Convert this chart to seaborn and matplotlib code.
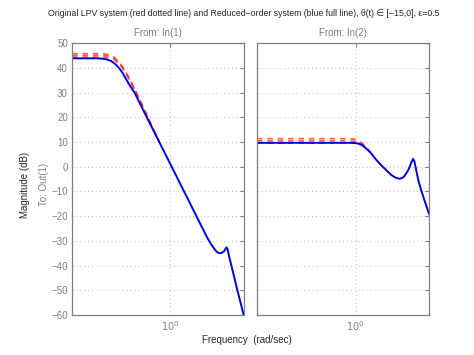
import numpy as np
import pandas as pd
import seaborn as sns
import matplotlib
matplotlib.use("Agg")
import matplotlib.pyplot as plt

# ---- data (log10 of frequency, magnitude in dB) ----
# From: In(1), reduced-order model (blue)
in1_logf = [-0.80, -0.60, -0.56, -0.52, -0.48, -0.45, -0.42, -0.39, -0.36,
            -0.33, -0.29, -0.19, -0.088, 0.013, 0.114, 0.215, 0.30, 0.33,
            0.36, 0.385, 0.404, 0.42, 0.44, 0.461, 0.47, 0.478, 0.49, 0.50,
            0.525, 0.549, 0.575, 0.60]
in1_blue = [43.9, 43.9, 43.8, 43.5, 42.8, 41.7, 40.2, 38.2, 35.6,
            33.0, 30.0, 20.0, 10.0, 0.0, -10.0, -20.0, -28.4, -31.0,
            -33.2, -34.6, -35.0, -34.9, -34.2, -32.6, -33.5, -35.5, -38.0, -40.0,
            -45.0, -50.0, -55.0, -60.0]

# From: In(1), original LPV system for several theta (red)
in1_red_logf = [-0.80, -0.55, -0.50, -0.46, -0.42, -0.38, -0.34, -0.29, -0.19, -0.088]
in1_red = [
    [45.8, 45.8, 45.4, 44.5, 42.7, 39.9, 36.4, 31.5, 21.0, 10.0],
    [45.1, 45.1, 44.8, 44.0, 42.3, 39.6, 36.2, 31.4, 20.9, 10.0],
    [44.4, 44.4, 44.2, 43.5, 41.9, 39.3, 36.0, 31.2, 20.8, 10.0],
]

# From: In(2), reduced-order model (blue)
in2_logf = [-0.80, -0.038, 0.0, 0.03, 0.055, 0.077, 0.10, 0.126, 0.165, 0.208,
            0.25, 0.29, 0.325, 0.358, 0.39, 0.413, 0.435, 0.455, 0.468, 0.478,
            0.487, 0.509, 0.53, 0.55, 0.571, 0.591, 0.60]
in2_blue = [9.7, 9.7, 9.6, 9.3, 8.7, 7.8, 6.8, 5.5, 3.0, 0.7,
            -1.4, -3.3, -4.4, -4.9, -4.2, -2.6, -0.6, 2.0, 3.2, 2.2,
            0.0, -5.3, -9.0, -12.1, -15.3, -18.2, -19.5]

# From: In(2), original LPV system for several theta (red)
in2_red_logf = [-0.80, -0.05, 0.0, 0.03, 0.055, 0.08, 0.126]
in2_red = [
    [11.4, 11.4, 11.1, 10.4, 9.5, 8.3, 5.5],
    [10.5, 10.5, 10.3, 9.9, 9.1, 8.0, 5.5],
    [9.6, 9.6, 9.5, 9.3, 8.7, 7.8, 5.5],
]

y_ticks = list(range(-60, 51, 10))
col_titles = ["From: In(1)", "From: In(2)"]

TITLE = ("Original LPV system (red dotted line) and Reduced\u2212order system "
         "(blue full line), \u03b8(t) \u2208 [\u221215,0], \u03b5=0.5")

sns.set_style("white")
plt.rcParams["font.family"] = ["Liberation Sans", "DejaVu Sans"]

fig = plt.figure(figsize=(4.74, 3.55), dpi=100)
ax1 = fig.add_axes([0.152, 0.1127, 0.362, 0.7654])
ax2 = fig.add_axes([0.542, 0.1127, 0.364, 0.7654])

GRAY = "#7f7f7f"
panels = [(ax1, in1_logf, in1_blue, in1_red_logf, in1_red),
          (ax2, in2_logf, in2_blue, in2_red_logf, in2_red)]

for i, (ax, lf, blue, rlf, reds) in enumerate(panels):
    for r in reds:
        df_r = pd.DataFrame({"f": 10 ** np.array(rlf), "mag": r})
        sns.lineplot(data=df_r, x="f", y="mag", ax=ax, color="#ff2020", alpha=0.75,
                     lw=1.15, linestyle=(0, (3.5, 3.0)), estimator=None, sort=False)
    df_b = pd.DataFrame({"f": 10 ** np.array(lf), "mag": blue})
    sns.lineplot(data=df_b, x="f", y="mag", ax=ax, color="#0000e0", lw=1.4,
                 estimator=None, sort=False)

    ax.set_xscale("log")
    ax.set_xlim(10 ** -0.8, 10 ** 0.6)
    ax.set_ylim(-60, 50)
    ax.set_xticks([1.0])
    ax.set_xticklabels(["$10^0$"])
    ax.xaxis.set_minor_locator(matplotlib.ticker.NullLocator())
    ax.set_yticks(y_ticks)
    ax.grid(True, color="#b8b8b8", linestyle=(0, (1, 3)), linewidth=0.7)
    ax.tick_params(direction="in", length=3, color=GRAY, labelcolor=GRAY,
                   labelsize=7, top=True, right=True, pad=3)
    for s in ax.spines.values():
        s.set_color(GRAY)
        s.set_linewidth(0.9)
    ax.set_xlabel("")
    ax.set_ylabel("")
    ax.set_title(col_titles[i], fontsize=7, color=GRAY, pad=5)

ax2.tick_params(labelleft=False)

fig.text(0.515, 0.962, TITLE, ha="center", va="center", fontsize=6.3)
fig.text(0.052, 0.48, "Magnitude (dB)", rotation=90, ha="center", va="center", fontsize=7)
fig.text(0.092, 0.48, "To: Out(1)", rotation=90, ha="center", va="center",
         fontsize=7, color=GRAY)
fig.text(0.52, 0.042, "Frequency  (rad/sec)", ha="center", va="center", fontsize=7)

fig.savefig("out.png", dpi=100)
